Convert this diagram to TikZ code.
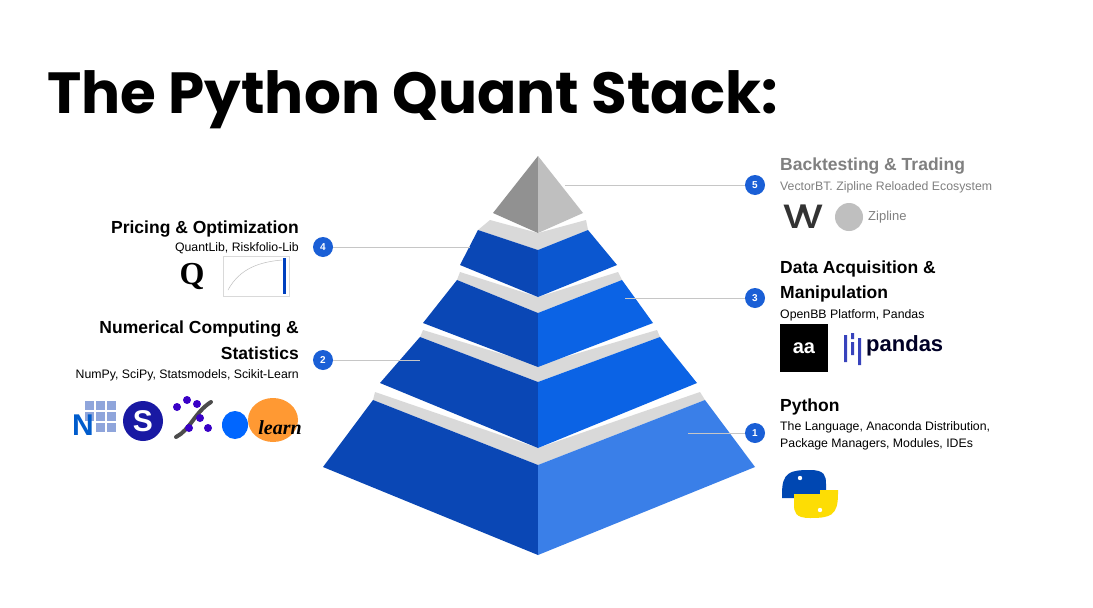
\documentclass[tikz,border=0pt]{standalone}
\usepackage{fontspec}
\setmainfont{Liberation Sans}
\newfontfamily\titlefont{Poppins}
\begin{document}
\begin{tikzpicture}[x=1pt,y=-1pt,
  badge/.style={circle,fill=bdg,text=white,inner sep=0pt,minimum size=20pt,font=\bfseries\fontsize{10}{10}\selectfont},
  lead/.style={draw=gray!45,line width=0.8pt},
  head/.style={font=\bfseries\fontsize{17.5}{18}\selectfont,inner sep=0pt},
  sub/.style={font=\fontsize{12.3}{14}\selectfont,inner sep=0pt}]
\definecolor{bdg}{HTML}{1A5FD6}
\definecolor{dl}{HTML}{0A47B5}
\definecolor{r1}{HTML}{3A7FE8}
\definecolor{r2}{HTML}{0B63E5}
\definecolor{r4}{HTML}{0B57D0}
\definecolor{band}{HTML}{D9D9D9}
\useasboundingbox[fill=white] (0,0) rectangle (1093,608);
% title
\node[anchor=base west,inner sep=0pt,font=\titlefont\bfseries\fontsize{58}{58}\selectfont] (title) at (47,113) {The Python Quant Stack:};
% tier 1
\fill[band] (373,400)--(375,392)--(538,448)--(700,392)--(705,400)--(538,465)--cycle;
\fill[dl] (323,467)--(373,400)--(538,465)--(538,555)--cycle;
\fill[r1] (755,467)--(705,400)--(538,465)--(538,555)--cycle;
% tier 2
\fill[band] (420,337)--(423,330)--(538,365)--(657,330)--(660,337)--(538,382)--cycle;
\fill[dl] (380,383)--(420,337)--(538,382)--(538,448)--cycle;
\fill[r2] (697,383)--(660,337)--(538,382)--(538,448)--cycle;
% tier 3
\fill[band] (457,280)--(460,272)--(538,297)--(618,272)--(622,280)--(538,313)--cycle;
\fill[dl] (423,323)--(457,280)--(538,313)--(538,367)--cycle;
\fill[r2] (653,323)--(622,280)--(538,313)--(538,367)--cycle;
% tier 4
\fill[band] (478,230)--(490,220)--(538,233)--(586,220)--(588,230)--(538,250)--cycle;
\fill[dl] (460,265)--(478,230)--(538,250)--(538,297)--cycle;
\fill[r4] (617,265)--(588,230)--(538,250)--(538,297)--cycle;
% cap
\fill[gray!85!black!75] (538,156)--(493,213)--(538,233)--cycle;
\fill[gray!50] (538,156)--(583,213)--(538,233)--cycle;
% anchors
\coordinate (p5) at (565,185);
\coordinate (p4) at (470,247);
\coordinate (p3) at (625,298);
\coordinate (p2) at (420,360);
\coordinate (p1) at (688,433);
\node[badge] (b5) at (755,185) {5};
\node[badge] (b4) at (323,247) {4};
\node[badge] (b3) at (755,298) {3};
\node[badge] (b2) at (323,360) {2};
\node[badge] (b1) at (755,433) {1};
\draw[lead] (p5)--(b5); \draw[lead] (p4)--(b4); \draw[lead] (p3)--(b3);
\draw[lead] (p2)--(b2); \draw[lead] (p1)--(b1);
% right labels
\node[head,anchor=base west,text=gray] (h5) at (780,170) {Backtesting \& Trading};
\node[sub,anchor=base west,text=gray] (s5) at (780,190) {VectorBT. Zipline Reloaded Ecosystem};
\node[font=\bfseries\fontsize{34}{34}\selectfont,text=black!80,inner sep=0pt] (vbt) at (803,217) {V\kern-6pt V};
\node[circle,fill=gray!50,minimum size=28pt,inner sep=0pt] (zl) at (849,217) {};
\node[sub,anchor=west,text=gray,font=\fontsize{13}{14}\selectfont] (zlt) at (868,217) {Zipline};
\node[head,anchor=base west] (h3a) at (780,273) {Data Acquisition \&};
\node[head,anchor=base west] (h3b) at (780,298) {Manipulation};
\node[sub,anchor=base west] (s3) at (780,318) {OpenBB Platform, Pandas};
\node[fill=black,minimum size=48pt,inner sep=0pt,text=white,font=\bfseries\fontsize{20}{20}\selectfont] (obb) at (804,348) {\textbf{aa}};
\fill[bdg!70!violet] (844,335) rectangle (847,362) (851,342) rectangle (854,355) (851,333) rectangle (854,339) (858,338) rectangle (861,365);
\node[anchor=west,inner sep=0pt,font=\bfseries\fontsize{22}{22}\selectfont,text=black!85!blue] (pd) at (866,346) {pandas};
\node[head,anchor=base west] (h1) at (780,411) {Python};
\node[sub,anchor=base west] (s1a) at (780,430) {The Language, Anaconda Distribution,};
\node[sub,anchor=base west] (s1b) at (780,447) {Package Managers, Modules, IDEs};
\fill[blue!60!cyan!70!black] (782,494) .. controls (782,472) and (790,470) .. (810,470) .. controls (825,470) and (826,476) .. (826,484) -- (826,494) -- (800,494) -- (800,498) -- (782,498) -- cycle;
\fill[yellow!80!orange] (838,494) .. controls (838,516) and (830,518) .. (810,518) .. controls (795,518) and (794,512) .. (794,504) -- (794,494) -- (820,494) -- (820,490) -- (838,490) -- cycle;
\fill[white] (800,478) circle (2.2) (820,510) circle (2.2);
% left labels
\node[head,anchor=base east] (h4) at (299,233) {Pricing \& Optimization};
\node[sub,anchor=base east] (s4) at (299,251) {QuantLib, Riskfolio-Lib};
\node[font=\bfseries\fontsize{32}{32}\selectfont\rmfamily,inner sep=0pt] (ql) at (192,276) {\fontspec{Liberation Serif}\textbf{Q}};
\node[draw=gray!30,minimum width=66pt,minimum height=40pt,inner sep=0pt] (chart) at (256,276) {};
\draw[gray!50,line width=0.5pt] (228,290) .. controls (240,268) and (260,262) .. (282,260);
\fill[blue!50!teal] (283,258) rectangle (286,294);
\node[head,anchor=base east] (h2a) at (299,333) {Numerical Computing \&};
\node[head,anchor=base east] (h2b) at (299,359) {Statistics};
\node[sub,anchor=base east] (s2) at (299,378) {NumPy, SciPy, Statsmodels, Scikit-Learn};
% logos row
\foreach \i/\j in {0/0,1/0,2/0,0/1,1/1,2/1,1/2,2/2}{\fill[cyan!40!blue!45] (85+\i*11,401+\j*11) rectangle (94+\i*11,410+\j*11);}
\node[font=\bfseries\fontsize{30}{30}\selectfont,text=blue!55!cyan!80!black,inner sep=0pt] (np) at (83,425) {N};
\node[circle,fill=blue!60!black!90,minimum size=40pt,inner sep=0pt,text=white,font=\bfseries\fontsize{30}{30}\selectfont] (sp) at (143,421) {S};
\draw[gray!60!black,line width=4pt,line cap=round] (176,437) .. controls (190,430) and (195,412) .. (211,402);
\foreach \p in {(177,407),(187,400),(200,418),(208,428),(189,428),(197,404)}{\fill[blue!55!violet] \p circle (4);}
\fill[blue!60!cyan] (235,425) ellipse (13 and 14);
\fill[orange!80] (273,420) ellipse (25 and 22);
\node[font=\itshape\bfseries\fontsize{20}{20}\selectfont\fontspec{Liberation Serif},inner sep=0pt] (lrn) at (280,428) {learn};
\end{tikzpicture}
\end{document}
